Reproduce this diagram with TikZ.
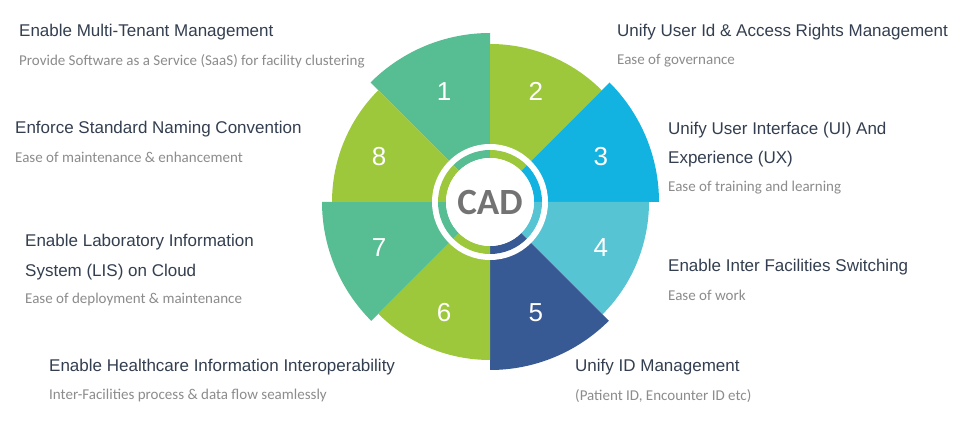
\documentclass[tikz,border=0pt]{standalone}
\usepackage{fontspec}
\usetikzlibrary{calc}
\setmainfont{Liberation Sans}
\newfontfamily\subf{Carlito}
\definecolor{cA}{HTML}{57BD92}
\definecolor{cB}{HTML}{9DC83C}
\definecolor{cC}{HTML}{12B3E0}
\definecolor{cD}{HTML}{57C4D4}
\definecolor{cE}{HTML}{375A94}
\definecolor{ttl}{HTML}{333F50}
\definecolor{sub}{HTML}{8C8C8C}
\begin{document}
\begin{tikzpicture}[x=1pt,y=1pt,
  ttl/.style={anchor=west,inner sep=0,text=ttl,font=\fontsize{17}{20}\selectfont},
  sub/.style={anchor=west,inner sep=0,text=sub,font=\subf\fontsize{15}{18}\selectfont},
  num/.style={text=white,font=\fontsize{26}{30}\selectfont}]
\useasboundingbox (0,0) rectangle (961,423);
\fill[white] (0,0) rectangle (961,423);
\coordinate (c) at (490,221);
\foreach \a/\r/\col/\n in {90/169/cA/1, 45/158/cB/2, 0/169/cC/3, -45/159/cD/4, -90/168/cE/5, -135/158/cB/6, 180/168/cA/7, 135/158/cB/8}{
  \fill[\col] (c) -- ++(\a:\r) arc[start angle=\a, delta angle=45, radius=\r] -- cycle;
  \node[num] (n\n) at ($(c)+(\a+22.5:120)$) {\n};
}
\fill[white] (c) circle (58);
\foreach \a/\col in {90/cA, 45/cB, 0/cC, -45/cD, -90/cE, -135/cB, 180/cA, 135/cB}{
  \fill[\col] ($(c)+(\a:52)$) arc[start angle=\a, delta angle=45, radius=52] -- ($(c)+(\a+45:44)$) arc[start angle=\a+45, delta angle=-45, radius=44] -- cycle;
}
\fill[white] (c) circle (44);
\node[text=black!55,font=\subf\bfseries\fontsize{37}{40}\selectfont] (cad) at (c) {CAD};
\node[ttl] (t1) at (19,391) {Enable Multi-Tenant Management};
\node[sub] (s1) at (19,362) {Provide Software as a Service (SaaS) for facility clustering};
\node[ttl] (t2) at (617,391) {Unify User Id \& Access Rights Management};
\node[sub] (s2) at (617,362) {Ease of governance};
\node[ttl] (t3) at (668,293) {Unify User Interface (UI) And};
\node[ttl] (t3b) at (668,264) {Experience (UX)};
\node[sub] (s3) at (668,235) {Ease of training and learning};
\node[ttl] (t4) at (668,156) {Enable Inter Facilities Switching};
\node[sub] (s4) at (668,128) {Ease of work};
\node[ttl] (t5) at (575,56) {Unify ID Management};
\node[sub] (s5) at (575,27) {(Patient ID, Encounter ID etc)};
\node[ttl] (t8) at (15,294) {Enforce Standard Naming Convention};
\node[sub] (s8) at (15,266) {Ease of maintenance \& enhancement};
\node[ttl] (t7) at (25,181) {Enable Laboratory Information};
\node[ttl] (t7b) at (25,151) {System (LIS) on Cloud};
\node[sub] (s7) at (25,123) {Ease of deployment \& maintenance};
\node[ttl] (t6) at (49,56) {Enable Healthcare Information Interoperability};
\node[sub] (s6) at (49,27) {Inter-Facilities process \& data flow seamlessly};
\end{tikzpicture}
\end{document}
